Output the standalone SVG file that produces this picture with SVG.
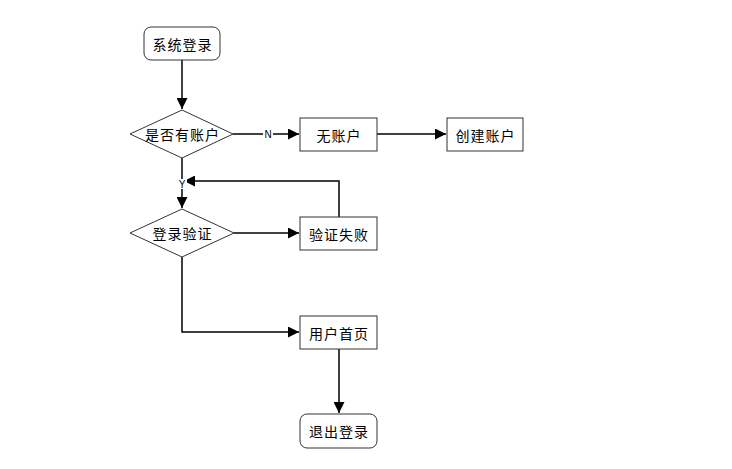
<svg xmlns="http://www.w3.org/2000/svg" width="732" height="469" viewBox="0 0 732 469">
<style>
.n{fill:#fff;stroke:#333;stroke-width:1}
.t{font-family:"Noto Sans CJK SC","Noto Sans",sans-serif;font-size:14px;letter-spacing:1px;fill:#000;text-anchor:middle;dominant-baseline:central}
.l{font-family:"Liberation Sans",sans-serif;font-size:10px;fill:#000;text-anchor:middle;dominant-baseline:central}
.c{fill:none;stroke:#000;stroke-width:1.5}
</style>
<defs>
<marker id="a" markerWidth="11" markerHeight="11" refX="11" refY="5.5" orient="auto" markerUnits="userSpaceOnUse" viewBox="0 0 11 11">
<path d="M0,0 L11,5.5 L0,11 Z" fill="#000"/>
</marker>
</defs>
<rect width="732" height="469" fill="#fff"/>
<g id="connectors">
<path class="c" d="M182,60 V109" marker-end="url(#a)"/>
<path class="c" d="M233,134 H299" marker-end="url(#a)"/>
<path class="c" d="M377,134 H446" marker-end="url(#a)"/>
<path class="c" d="M182,158 V208" marker-end="url(#a)"/>
<path class="c" d="M339,217 V181 H184" marker-end="url(#a)"/>
<path class="c" d="M234,233 H299" marker-end="url(#a)"/>
<path class="c" d="M182,257 V332 H299" marker-end="url(#a)"/>
<path class="c" d="M339,349 V413" marker-end="url(#a)"/>
<rect x="263" y="129" width="10" height="10" fill="#fff"/>
<text class="l" x="268" y="134">N</text>
<rect x="177" y="179" width="10" height="10" fill="#fff"/>
<text class="l" x="182" y="184">Y</text>
</g>
<g id="start"><rect class="n" x="144" y="27" width="76" height="33" rx="7"/><text class="t" x="182.5" y="43.5">系统登录</text></g>
<g id="hasAccount"><polygon class="n" points="182,110 233,134 182,158 130,134"/><text class="t" x="182.5" y="134">是否有账户</text></g>
<g id="noAccount"><rect class="n" x="300" y="118" width="77" height="33"/><text class="t" x="339" y="134.5">无账户</text></g>
<g id="createAccount"><rect class="n" x="447" y="118" width="76" height="33"/><text class="t" x="485.5" y="134.5">创建账户</text></g>
<g id="verify"><polygon class="n" points="182,209 234,233 182,257 130,233"/><text class="t" x="182.5" y="233">登录验证</text></g>
<g id="verifyFail"><rect class="n" x="300" y="217" width="77" height="33"/><text class="t" x="339" y="233.5">验证失败</text></g>
<g id="home"><rect class="n" x="300" y="316" width="77" height="33"/><text class="t" x="339" y="332.5">用户首页</text></g>
<g id="logout"><rect class="n" x="300" y="414" width="77" height="34" rx="7"/><text class="t" x="339" y="431">退出登录</text></g>
</svg>
